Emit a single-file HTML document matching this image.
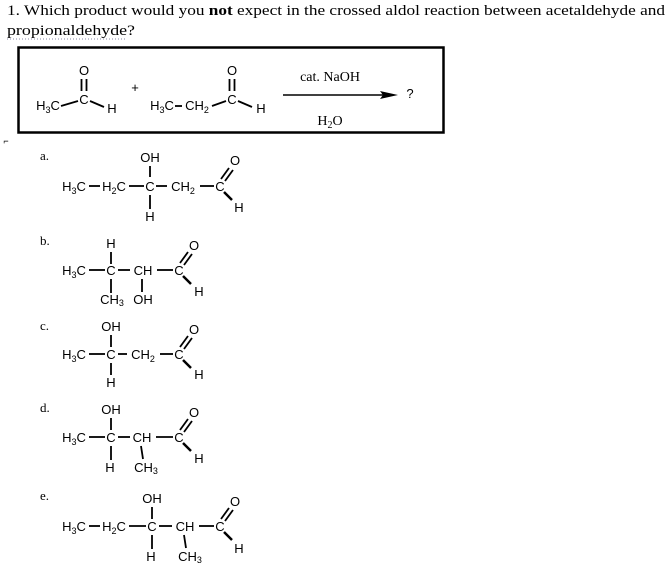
<!DOCTYPE html>
<html><head><meta charset="utf-8"><style>
html,body{margin:0;padding:0;background:#fff;width:672px;height:569px;overflow:hidden}
svg{display:block}
.s{font-family:"Liberation Sans",sans-serif;font-size:13px;fill:#000;text-anchor:middle}
.r{font-family:"Liberation Serif",serif;font-size:15px;fill:#000}
line{stroke:#000;stroke-width:1.8}
</style></head><body>
<svg width="672" height="569" viewBox="0 0 672 569">
<text class="r" x="7" y="15" textLength="658" lengthAdjust="spacingAndGlyphs">1. Which product would you <tspan font-weight="bold">not</tspan> expect in the crossed aldol reaction between acetaldehyde and</text>
<text class="r" x="7" y="35" textLength="128" lengthAdjust="spacingAndGlyphs">propionaldehyde?</text>
<line x1="7" y1="39" x2="125" y2="39" style="stroke:#88a;stroke-width:1;stroke-dasharray:1 2"/>
<rect x="18.5" y="47.5" width="425" height="85" fill="none" stroke="#000" stroke-width="2.5"/>
<text class="s" x="48" y="110">H<tspan font-size="9" dy="3">3</tspan><tspan dy="-3">C</tspan></text>
<line x1="61" y1="106" x2="78" y2="101"/>
<text class="s" x="84" y="104">C</text>
<line x1="81.5" y1="79" x2="81.5" y2="91"/><line x1="86.5" y1="79" x2="86.5" y2="91"/>
<text class="s" x="84" y="75">O</text>
<line x1="90" y1="101" x2="104" y2="107"/>
<text class="s" x="112" y="113">H</text>
<text class="s" x="135" y="92">+</text>
<text class="s" x="162" y="110">H<tspan font-size="9" dy="3">3</tspan><tspan dy="-3">C</tspan></text>
<line x1="175" y1="106" x2="182" y2="106"/>
<text class="s" x="197" y="110">CH<tspan font-size="9" dy="3">2</tspan></text>
<line x1="212" y1="106" x2="226" y2="101"/>
<text class="s" x="232" y="104">C</text>
<line x1="229.5" y1="79" x2="229.5" y2="91"/><line x1="234.5" y1="79" x2="234.5" y2="91"/>
<text class="s" x="232" y="75">O</text>
<line x1="238" y1="101" x2="252" y2="107"/>
<text class="s" x="261" y="113">H</text>
<line x1="283" y1="95" x2="385" y2="95" style="stroke-width:1.5"/>
<polygon points="398,95 380,91 383,95 380,99" fill="#000"/>
<text class="r" x="330" y="81" style="font-size:14px;text-anchor:middle">cat. NaOH</text>
<text class="r" x="330" y="125" style="font-size:14px;text-anchor:middle">H<tspan font-size="10" dy="3">2</tspan><tspan dy="-3">O</tspan></text>
<text class="s" x="410" y="98">?</text>
<text class="s" x="6" y="144" style="font-size:9px">⌐</text>

<text class="r" x="40" y="160" style="font-size:13px">a.</text>
<text class="s" x="150" y="162">OH</text><line x1="150" y1="166" x2="150" y2="177"/>
<text class="s" x="74" y="191">H<tspan font-size="9" dy="3">3</tspan><tspan dy="-3">C</tspan></text>
<line x1="89" y1="186" x2="100" y2="186"/>
<text class="s" x="114" y="191">H<tspan font-size="9" dy="3">2</tspan><tspan dy="-3">C</tspan></text>
<line x1="129" y1="186" x2="144" y2="186"/>
<text class="s" x="150" y="191">C</text>
<line x1="156" y1="186" x2="167" y2="186"/>
<text class="s" x="183" y="191">CH<tspan font-size="9" dy="3">2</tspan></text>
<line x1="200" y1="186" x2="214" y2="186"/>
<text class="s" x="220" y="191">C</text>
<line x1="150" y1="195" x2="150" y2="209"/><text class="s" x="150" y="221">H</text>
<line x1="221" y1="179" x2="229" y2="168"/><line x1="225" y1="181" x2="233" y2="170"/>
<text class="s" x="235" y="165">O</text>
<line x1="224" y1="192" x2="232" y2="200" style="stroke-width:2.5"/>
<text class="s" x="239" y="212">H</text>

<text class="r" x="40" y="245" style="font-size:13px">b.</text>
<text class="s" x="111" y="248">H</text><line x1="111" y1="252" x2="111" y2="264"/>
<text class="s" x="74" y="275">H<tspan font-size="9" dy="3">3</tspan><tspan dy="-3">C</tspan></text>
<line x1="89" y1="270" x2="105" y2="270"/>
<text class="s" x="111" y="275">C</text>
<line x1="118" y1="270" x2="130" y2="270"/>
<text class="s" x="143" y="275">CH</text>
<line x1="157" y1="270" x2="173" y2="270"/>
<text class="s" x="179" y="275">C</text>
<line x1="111" y1="279" x2="111" y2="293"/>
<text class="s" x="112" y="304">CH<tspan font-size="9" dy="2">3</tspan></text>
<line x1="142" y1="279" x2="142" y2="292"/>
<text class="s" x="143" y="304">OH</text>
<line x1="180" y1="263" x2="188" y2="252"/><line x1="184" y1="265" x2="192" y2="254"/>
<text class="s" x="194" y="250">O</text>
<line x1="183" y1="276" x2="191" y2="284" style="stroke-width:2.5"/>
<text class="s" x="199" y="296">H</text>

<text class="r" x="40" y="330" style="font-size:13px">c.</text>
<text class="s" x="111" y="331">OH</text><line x1="111" y1="335" x2="111" y2="347"/>
<text class="s" x="74" y="359">H<tspan font-size="9" dy="3">3</tspan><tspan dy="-3">C</tspan></text>
<line x1="89" y1="354" x2="105" y2="354"/>
<text class="s" x="111" y="359">C</text>
<line x1="118" y1="354" x2="127" y2="354"/>
<text class="s" x="143" y="359">CH<tspan font-size="9" dy="3">2</tspan></text>
<line x1="160" y1="354" x2="173" y2="354"/>
<text class="s" x="179" y="359">C</text>
<line x1="111" y1="363" x2="111" y2="375"/><text class="s" x="111" y="387">H</text>
<line x1="180" y1="347" x2="188" y2="336"/><line x1="184" y1="349" x2="192" y2="338"/>
<text class="s" x="194" y="334">O</text>
<line x1="183" y1="360" x2="191" y2="368" style="stroke-width:2.5"/>
<text class="s" x="199" y="379">H</text>

<text class="r" x="40" y="412" style="font-size:13px">d.</text>
<text class="s" x="111" y="414">OH</text><line x1="111" y1="418" x2="111" y2="430"/>
<text class="s" x="74" y="442">H<tspan font-size="9" dy="3">3</tspan><tspan dy="-3">C</tspan></text>
<line x1="89" y1="437" x2="105" y2="437"/>
<text class="s" x="111" y="442">C</text>
<line x1="118" y1="437" x2="130" y2="437"/>
<text class="s" x="142" y="442">CH</text>
<line x1="156" y1="437" x2="173" y2="437"/>
<text class="s" x="179" y="442">C</text>
<line x1="111" y1="446" x2="111" y2="460"/><text class="s" x="110" y="472">H</text>
<line x1="141" y1="446" x2="143" y2="459"/>
<text class="s" x="146" y="472">CH<tspan font-size="9" dy="2">3</tspan></text>
<line x1="180" y1="430" x2="188" y2="419"/><line x1="184" y1="432" x2="192" y2="421"/>
<text class="s" x="194" y="417">O</text>
<line x1="183" y1="443" x2="191" y2="451" style="stroke-width:2.5"/>
<text class="s" x="199" y="463">H</text>

<text class="r" x="40" y="500" style="font-size:13px">e.</text>
<text class="s" x="152" y="503">OH</text><line x1="152" y1="507" x2="152" y2="519"/>
<text class="s" x="74" y="531">H<tspan font-size="9" dy="3">3</tspan><tspan dy="-3">C</tspan></text>
<line x1="89" y1="526" x2="100" y2="526"/>
<text class="s" x="114" y="531">H<tspan font-size="9" dy="3">2</tspan><tspan dy="-3">C</tspan></text>
<line x1="129" y1="526" x2="146" y2="526"/>
<text class="s" x="152" y="531">C</text>
<line x1="159" y1="526" x2="172" y2="526"/>
<text class="s" x="185" y="531">CH</text>
<line x1="199" y1="526" x2="214" y2="526"/>
<text class="s" x="220" y="531">C</text>
<line x1="152" y1="535" x2="152" y2="549"/><text class="s" x="151" y="561">H</text>
<line x1="184" y1="535" x2="186" y2="548"/>
<text class="s" x="190" y="561">CH<tspan font-size="9" dy="2">3</tspan></text>
<line x1="221" y1="519" x2="229" y2="508"/><line x1="225" y1="521" x2="233" y2="510"/>
<text class="s" x="235" y="506">O</text>
<line x1="224" y1="532" x2="232" y2="540" style="stroke-width:2.5"/>
<text class="s" x="239" y="553">H</text>
</svg>
</body></html>
